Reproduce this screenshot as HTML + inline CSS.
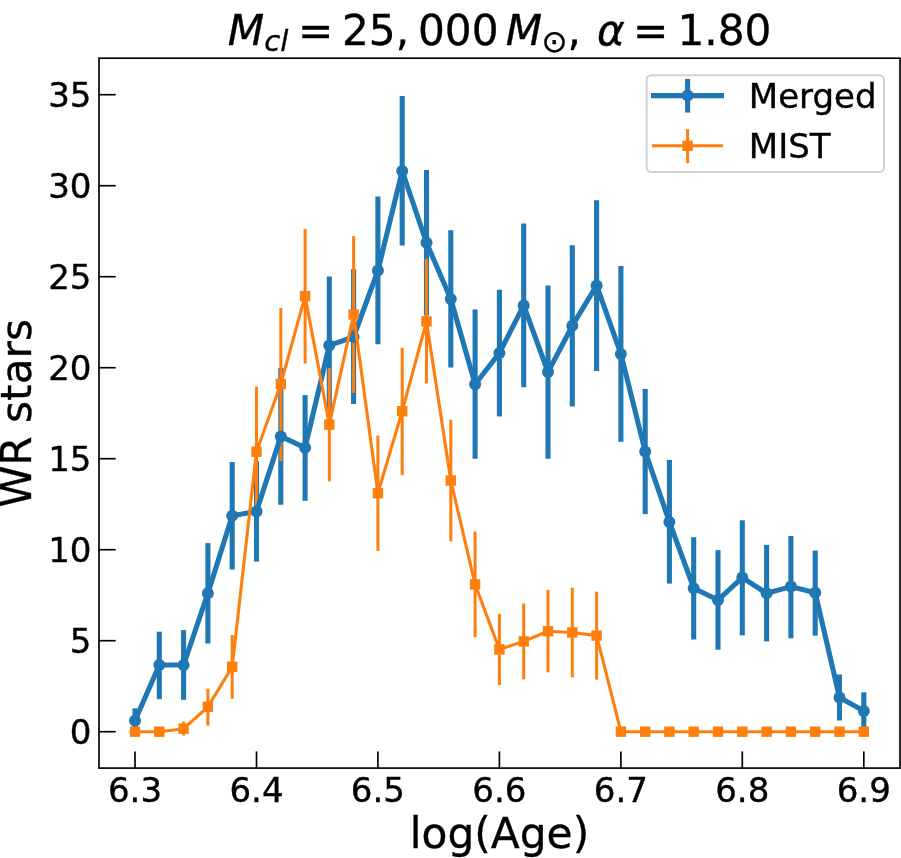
<!DOCTYPE html>
<html lang="en"><head><meta charset="utf-8"><title>WR stars vs log(Age)</title>
<style>
html,body{margin:0;padding:0;background:#fff;}
body{width:901px;height:858px;overflow:hidden;}
svg{display:block;}
text{font-family:"DejaVu Sans","Liberation Sans",sans-serif;fill:#000;stroke:#000;stroke-width:0.35px;}
.it{font-style:oblique;}
</style></head><body>
<svg width="901" height="858" viewBox="0 0 901 858">
<rect x="0" y="0" width="901" height="858" fill="#fff"/>

<g stroke="#1f77b4" stroke-width="5.1" fill="none">
<line x1="135.0" y1="708.3" x2="135.0" y2="733.1"/>
<line x1="159.3" y1="631.7" x2="159.3" y2="699.2"/>
<line x1="183.6" y1="630.1" x2="183.6" y2="699.8"/>
<line x1="207.9" y1="543.1" x2="207.9" y2="643.5"/>
<line x1="232.2" y1="462.1" x2="232.2" y2="569.5"/>
<line x1="256.5" y1="461.2" x2="256.5" y2="561.6"/>
<line x1="280.8" y1="368.1" x2="280.8" y2="504.7"/>
<line x1="305.1" y1="395.1" x2="305.1" y2="500.8"/>
<line x1="329.3" y1="276.6" x2="329.3" y2="414.2"/>
<line x1="353.6" y1="269.3" x2="353.6" y2="404.0"/>
<line x1="377.9" y1="196.5" x2="377.9" y2="344.3"/>
<line x1="402.2" y1="96.0" x2="402.2" y2="245.6"/>
<line x1="426.5" y1="169.9" x2="426.5" y2="315.5"/>
<line x1="450.8" y1="230.3" x2="450.8" y2="367.6"/>
<line x1="475.1" y1="309.6" x2="475.1" y2="458.7"/>
<line x1="499.4" y1="289.7" x2="499.4" y2="416.4"/>
<line x1="523.7" y1="223.5" x2="523.7" y2="387.3"/>
<line x1="548.0" y1="285.4" x2="548.0" y2="458.7"/>
<line x1="572.3" y1="245.3" x2="572.3" y2="406.5"/>
<line x1="596.6" y1="200.2" x2="596.6" y2="371.0"/>
<line x1="620.9" y1="266.1" x2="620.9" y2="441.8"/>
<line x1="645.2" y1="388.9" x2="645.2" y2="514.1"/>
<line x1="669.4" y1="459.9" x2="669.4" y2="583.6"/>
<line x1="693.7" y1="537.2" x2="693.7" y2="639.5"/>
<line x1="718.0" y1="550.1" x2="718.0" y2="649.7"/>
<line x1="742.3" y1="520.3" x2="742.3" y2="635.4"/>
<line x1="766.6" y1="544.9" x2="766.6" y2="641.4"/>
<line x1="790.9" y1="536.0" x2="790.9" y2="638.3"/>
<line x1="815.2" y1="550.6" x2="815.2" y2="635.6"/>
<line x1="839.5" y1="674.5" x2="839.5" y2="720.5"/>
<line x1="863.8" y1="692.3" x2="863.8" y2="729.5"/>
</g>
<g stroke="#ff7f0e" stroke-width="3.0" fill="none">
<line x1="183.6" y1="721.5" x2="183.6" y2="735.6"/>
<line x1="207.9" y1="688.7" x2="207.9" y2="725.6"/>
<line x1="232.2" y1="635.0" x2="232.2" y2="698.7"/>
<line x1="256.5" y1="386.7" x2="256.5" y2="516.7"/>
<line x1="280.8" y1="308.1" x2="280.8" y2="461.0"/>
<line x1="305.1" y1="228.9" x2="305.1" y2="363.6"/>
<line x1="329.3" y1="368.2" x2="329.3" y2="481.4"/>
<line x1="353.6" y1="236.2" x2="353.6" y2="393.0"/>
<line x1="377.9" y1="435.6" x2="377.9" y2="550.9"/>
<line x1="402.2" y1="347.7" x2="402.2" y2="475.2"/>
<line x1="426.5" y1="258.8" x2="426.5" y2="383.5"/>
<line x1="450.8" y1="419.7" x2="450.8" y2="541.4"/>
<line x1="475.1" y1="531.5" x2="475.1" y2="637.2"/>
<line x1="499.4" y1="613.9" x2="499.4" y2="685.1"/>
<line x1="523.7" y1="603.5" x2="523.7" y2="679.4"/>
<line x1="548.0" y1="589.9" x2="548.0" y2="672.3"/>
<line x1="572.3" y1="587.7" x2="572.3" y2="677.4"/>
<line x1="596.6" y1="591.7" x2="596.6" y2="679.6"/>
</g>
<polyline points="135.0,720.7 159.3,665.0 183.6,665.0 207.9,593.3 232.2,515.8 256.5,511.4 280.8,436.4 305.1,447.7 329.3,345.4 353.6,337.0 377.9,270.6 402.2,171.0 426.5,242.7 450.8,299.0 475.1,384.2 499.4,353.0 523.7,305.4 548.0,372.1 572.3,325.8 596.6,285.4 620.9,353.9 645.2,451.5 669.4,521.9 693.7,588.2 718.0,600.0 742.3,577.6 766.6,593.3 790.9,586.6 815.2,592.8 839.5,697.4 863.8,710.9" fill="none" stroke="#1f77b4" stroke-width="5.1" stroke-linejoin="round" stroke-linecap="square"/>
<g fill="#1f77b4">
<circle cx="135.0" cy="720.7" r="6.0"/>
<circle cx="159.3" cy="665.0" r="6.0"/>
<circle cx="183.6" cy="665.0" r="6.0"/>
<circle cx="207.9" cy="593.3" r="6.0"/>
<circle cx="232.2" cy="515.8" r="6.0"/>
<circle cx="256.5" cy="511.4" r="6.0"/>
<circle cx="280.8" cy="436.4" r="6.0"/>
<circle cx="305.1" cy="447.7" r="6.0"/>
<circle cx="329.3" cy="345.4" r="6.0"/>
<circle cx="353.6" cy="337.0" r="6.0"/>
<circle cx="377.9" cy="270.6" r="6.0"/>
<circle cx="402.2" cy="171.0" r="6.0"/>
<circle cx="426.5" cy="242.7" r="6.0"/>
<circle cx="450.8" cy="299.0" r="6.0"/>
<circle cx="475.1" cy="384.2" r="6.0"/>
<circle cx="499.4" cy="353.0" r="6.0"/>
<circle cx="523.7" cy="305.4" r="6.0"/>
<circle cx="548.0" cy="372.1" r="6.0"/>
<circle cx="572.3" cy="325.8" r="6.0"/>
<circle cx="596.6" cy="285.4" r="6.0"/>
<circle cx="620.9" cy="353.9" r="6.0"/>
<circle cx="645.2" cy="451.5" r="6.0"/>
<circle cx="669.4" cy="521.9" r="6.0"/>
<circle cx="693.7" cy="588.2" r="6.0"/>
<circle cx="718.0" cy="600.0" r="6.0"/>
<circle cx="742.3" cy="577.6" r="6.0"/>
<circle cx="766.6" cy="593.3" r="6.0"/>
<circle cx="790.9" cy="586.6" r="6.0"/>
<circle cx="815.2" cy="592.8" r="6.0"/>
<circle cx="839.5" cy="697.4" r="6.0"/>
<circle cx="863.8" cy="710.9" r="6.0"/>
</g>
<polyline points="135.0,731.7 159.3,731.7 183.6,728.7 207.9,706.9 232.2,666.8 256.5,451.7 280.8,384.0 305.1,296.1 329.3,424.6 353.6,314.5 377.9,493.2 402.2,411.2 426.5,321.4 450.8,480.5 475.1,584.4 499.4,649.4 523.7,641.4 548.0,631.2 572.3,632.5 596.6,635.6 620.9,731.7 645.2,731.7 669.4,731.7 693.7,731.7 718.0,731.7 742.3,731.7 766.6,731.7 790.9,731.7 815.2,731.7 839.5,731.7 863.8,731.7" fill="none" stroke="#ff7f0e" stroke-width="3.1" stroke-linejoin="round" stroke-linecap="square"/>
<g fill="#ff7f0e">
<rect x="129.8" y="726.5" width="10.4" height="10.4"/>
<rect x="154.1" y="726.5" width="10.4" height="10.4"/>
<rect x="178.4" y="723.5" width="10.4" height="10.4"/>
<rect x="202.7" y="701.7" width="10.4" height="10.4"/>
<rect x="227.0" y="661.6" width="10.4" height="10.4"/>
<rect x="251.3" y="446.5" width="10.4" height="10.4"/>
<rect x="275.6" y="378.8" width="10.4" height="10.4"/>
<rect x="299.9" y="290.9" width="10.4" height="10.4"/>
<rect x="324.1" y="419.4" width="10.4" height="10.4"/>
<rect x="348.4" y="309.3" width="10.4" height="10.4"/>
<rect x="372.7" y="488.0" width="10.4" height="10.4"/>
<rect x="397.0" y="406.0" width="10.4" height="10.4"/>
<rect x="421.3" y="316.2" width="10.4" height="10.4"/>
<rect x="445.6" y="475.3" width="10.4" height="10.4"/>
<rect x="469.9" y="579.2" width="10.4" height="10.4"/>
<rect x="494.2" y="644.2" width="10.4" height="10.4"/>
<rect x="518.5" y="636.2" width="10.4" height="10.4"/>
<rect x="542.8" y="626.0" width="10.4" height="10.4"/>
<rect x="567.1" y="627.3" width="10.4" height="10.4"/>
<rect x="591.4" y="630.4" width="10.4" height="10.4"/>
<rect x="615.7" y="726.5" width="10.4" height="10.4"/>
<rect x="640.0" y="726.5" width="10.4" height="10.4"/>
<rect x="664.2" y="726.5" width="10.4" height="10.4"/>
<rect x="688.5" y="726.5" width="10.4" height="10.4"/>
<rect x="712.8" y="726.5" width="10.4" height="10.4"/>
<rect x="737.1" y="726.5" width="10.4" height="10.4"/>
<rect x="761.4" y="726.5" width="10.4" height="10.4"/>
<rect x="785.7" y="726.5" width="10.4" height="10.4"/>
<rect x="810.0" y="726.5" width="10.4" height="10.4"/>
<rect x="834.3" y="726.5" width="10.4" height="10.4"/>
<rect x="858.6" y="726.5" width="10.4" height="10.4"/>
</g>
<g stroke="#000" stroke-width="1.67" fill="none">
<line x1="135.0" y1="768.1" x2="135.0" y2="751.4"/>
<line x1="256.5" y1="768.1" x2="256.5" y2="751.4"/>
<line x1="377.9" y1="768.1" x2="377.9" y2="751.4"/>
<line x1="499.4" y1="768.1" x2="499.4" y2="751.4"/>
<line x1="620.9" y1="768.1" x2="620.9" y2="751.4"/>
<line x1="742.3" y1="768.1" x2="742.3" y2="751.4"/>
<line x1="863.8" y1="768.1" x2="863.8" y2="751.4"/>
<line x1="99.0" y1="731.7" x2="115.7" y2="731.7"/>
<line x1="99.0" y1="640.7" x2="115.7" y2="640.7"/>
<line x1="99.0" y1="549.7" x2="115.7" y2="549.7"/>
<line x1="99.0" y1="458.7" x2="115.7" y2="458.7"/>
<line x1="99.0" y1="367.7" x2="115.7" y2="367.7"/>
<line x1="99.0" y1="276.7" x2="115.7" y2="276.7"/>
<line x1="99.0" y1="185.7" x2="115.7" y2="185.7"/>
<line x1="99.0" y1="94.7" x2="115.7" y2="94.7"/>
<rect x="99.0" y="58.2" width="801.0" height="709.9" stroke-linejoin="miter"/>
</g>
<g font-size="34.1px" text-anchor="middle">
<text x="135.0" y="801.5">6.3</text>
<text x="256.5" y="801.5">6.4</text>
<text x="377.9" y="801.5">6.5</text>
<text x="499.4" y="801.5">6.6</text>
<text x="620.9" y="801.5">6.7</text>
<text x="742.3" y="801.5">6.8</text>
<text x="863.8" y="801.5">6.9</text>
</g>
<g font-size="34.1px" text-anchor="end">
<text x="91.5" y="744.3">0</text>
<text x="91.5" y="653.3">5</text>
<text x="91.5" y="562.3">10</text>
<text x="91.5" y="471.3">15</text>
<text x="91.5" y="380.3">20</text>
<text x="91.5" y="289.3">25</text>
<text x="91.5" y="198.3">30</text>
<text x="91.5" y="107.3">35</text>
</g>
<text x="499.5" y="848.4" font-size="42.3px" text-anchor="middle">log(Age)</text>
<text transform="translate(30.9,413.3) rotate(-90)" font-size="42.3px" text-anchor="middle">WR stars</text>
<g font-size="42.2px">
<text class="it" x="227.8" y="44.6">M</text>
<text class="it" x="264.3" y="51.1" font-size="29.17px">cl</text>
<text x="298.1" y="44.6">=</text>
<text x="342.0" y="44.6">25,</text>
<text x="418.0" y="44.6">000</text>
<text class="it" x="505.7" y="44.6">M</text>
<text x="541.6" y="51.800000000000004" font-size="31px">⊙</text>
<text x="567.5" y="44.6">,</text>
<text class="it" x="597.1" y="44.6">α</text>
<text x="633.0" y="44.6">=</text>
<text x="677.4" y="44.6">1.80</text>
</g>
<rect x="646.6" y="75.3" width="237.4" height="96.6" rx="4.5" ry="4.5" fill="#fff" fill-opacity="0.8" stroke="#d2d2d2" stroke-width="2"/>
<line x1="687.6" y1="78.9" x2="687.6" y2="112.6" stroke="#1f77b4" stroke-width="5.1"/>
<line x1="651" y1="95.6" x2="724" y2="95.6" stroke="#1f77b4" stroke-width="5.1"/>
<circle cx="687.6" cy="95.6" r="6.0" fill="#1f77b4"/>
<line x1="687.6" y1="129.1" x2="687.6" y2="163.1" stroke="#ff7f0e" stroke-width="3.0"/>
<line x1="652" y1="145.8" x2="723" y2="145.8" stroke="#ff7f0e" stroke-width="3.1"/>
<rect x="682.4" y="140.6" width="10.4" height="10.4" fill="#ff7f0e"/>
<text x="748.8" y="107.9" font-size="34px">Merged</text>
<text x="748.8" y="157.6" font-size="34px">MIST</text>
</svg>
</body></html>
